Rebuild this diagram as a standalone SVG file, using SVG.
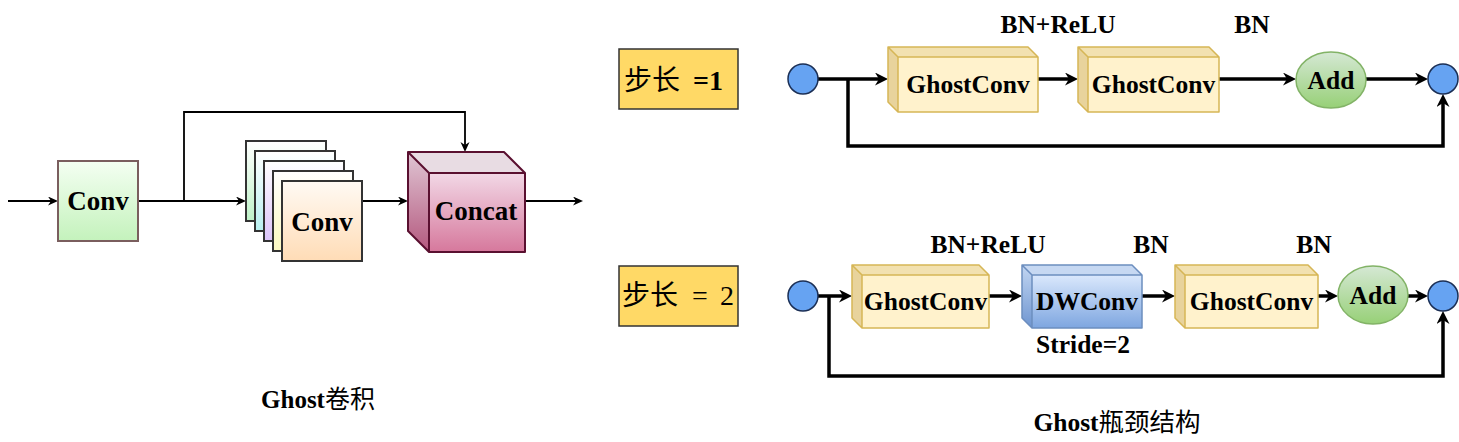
<svg xmlns="http://www.w3.org/2000/svg" width="1459" height="442" viewBox="0 0 1459 442">
<style>
.t{font-family:"Liberation Serif","Noto Sans CJK SC",serif;font-weight:bold;fill:#000;text-anchor:middle}
.s{font-family:"Liberation Serif","Noto Sans CJK SC",serif;font-weight:normal;fill:#000;text-anchor:start}
.cj{font-family:"Noto Sans CJK SC","Liberation Serif",serif;font-weight:normal}
.b{font-weight:bold}
.ln{fill:none;stroke:#000;stroke-width:1.8}
.lnr{fill:none;stroke:#000;stroke-width:3.5}
.gf{fill:#fff2cc}
.gt{fill:#f2e1b0}
.gl{fill:#e8d39c}
.go{fill:none;stroke:#d6b656;stroke-width:1.5;stroke-linejoin:round}
.dot{fill:#66a3f2;stroke:#1b2f55;stroke-width:1.5}
.step{fill:#ffd966;stroke:#333;stroke-width:1.5}
.card{stroke:#333;stroke-width:2}
</style>
<defs>
<marker id="aL" markerUnits="userSpaceOnUse" markerWidth="11" markerHeight="10" refX="3" refY="4.5" orient="auto"><path d="M0,0 L10,4.5 L0,9 L3,4.5 Z" fill="#000"/></marker>
<marker id="aR" markerUnits="userSpaceOnUse" markerWidth="14" markerHeight="14" refX="4" refY="6.5" orient="auto"><path d="M0,0 L13,6.5 L0,13 L4,6.5 Z" fill="#000"/></marker>
<linearGradient id="gGreen" x1="0" y1="0" x2="0" y2="1"><stop offset="0" stop-color="#f4fff2"/><stop offset="1" stop-color="#c4f2bc"/></linearGradient>
<linearGradient id="gC1" x1="0" y1="0" x2="0" y2="1"><stop offset="0" stop-color="#ffffff"/><stop offset="1" stop-color="#bff2c8"/></linearGradient>
<linearGradient id="gC2" x1="0" y1="0" x2="0" y2="1"><stop offset="0" stop-color="#ffffff"/><stop offset="1" stop-color="#b8f0f0"/></linearGradient>
<linearGradient id="gC3" x1="0" y1="0" x2="0" y2="1"><stop offset="0" stop-color="#ffffff"/><stop offset="1" stop-color="#dcc4fa"/></linearGradient>
<linearGradient id="gC4" x1="0" y1="0" x2="0" y2="1"><stop offset="0" stop-color="#ffffff"/><stop offset="1" stop-color="#fbf8c0"/></linearGradient>
<linearGradient id="gC5" x1="0" y1="0" x2="0" y2="1"><stop offset="0" stop-color="#fffaf4"/><stop offset="1" stop-color="#ffdcb6"/></linearGradient>
<linearGradient id="gPink" x1="0" y1="0" x2="0" y2="1"><stop offset="0" stop-color="#f2d8e6"/><stop offset="1" stop-color="#d6789c"/></linearGradient>
<linearGradient id="gPinkL" x1="0" y1="0" x2="0" y2="1"><stop offset="0" stop-color="#e0c6d4"/><stop offset="1" stop-color="#b4587e"/></linearGradient>
<linearGradient id="gBlue" x1="0" y1="0" x2="0" y2="1"><stop offset="0" stop-color="#dae8fc"/><stop offset="1" stop-color="#7ea6e0"/></linearGradient>
<linearGradient id="gBlueL" x1="0" y1="0" x2="0" y2="1"><stop offset="0" stop-color="#c2d6f2"/><stop offset="1" stop-color="#6e95d0"/></linearGradient>
<linearGradient id="gAdd" x1="0" y1="0" x2="0" y2="1"><stop offset="0" stop-color="#d5e8d4"/><stop offset="1" stop-color="#97d077"/></linearGradient>
</defs>

<g id="connectors">
<path class="ln" d="M8,201 H51" marker-end="url(#aL)"/>
<path class="ln" d="M138,201 H239" marker-end="url(#aL)"/>
<path class="ln" d="M184,201 V112 H465 V145" marker-end="url(#aL)"/>
<path class="ln" d="M362,201 H401" marker-end="url(#aL)"/>
<path class="ln" d="M525,201 H576" marker-end="url(#aL)"/>

<path class="lnr" d="M818,79 H879" marker-end="url(#aR)"/>
<path class="lnr" d="M848,79 V146 H1443 V103" marker-end="url(#aR)"/>
<path class="lnr" d="M1038,79 H1069" marker-end="url(#aR)"/>
<path class="lnr" d="M1219,79 H1287" marker-end="url(#aR)"/>
<path class="lnr" d="M1366,79 H1419" marker-end="url(#aR)"/>

<path class="lnr" d="M818,296 H843" marker-end="url(#aR)"/>
<path class="lnr" d="M829,296 V376 H1443 V320" marker-end="url(#aR)"/>
<path class="lnr" d="M989,296 H1013" marker-end="url(#aR)"/>
<path class="lnr" d="M1142,296 H1166" marker-end="url(#aR)"/>
<path class="lnr" d="M1318,296 H1329" marker-end="url(#aR)"/>
<path class="lnr" d="M1408,296 H1419" marker-end="url(#aR)"/>
</g>

<g id="conv1">
<rect x="58" y="161" width="80" height="80" fill="url(#gGreen)" stroke="#7a5e5e" stroke-width="2"/>
<text class="t" x="98" y="210" font-size="27">Conv</text>
</g>

<g id="conv-stack">
<rect class="card" x="246" y="141" width="80" height="80" fill="url(#gC1)"/>
<rect class="card" x="255" y="151" width="80" height="80" fill="url(#gC2)"/>
<rect class="card" x="264" y="161" width="80" height="80" fill="url(#gC3)"/>
<rect class="card" x="273" y="171" width="80" height="80" fill="url(#gC4)"/>
<rect class="card" x="282" y="181" width="80" height="80" fill="url(#gC5)"/>
<text class="t" x="322" y="231" font-size="27">Conv</text>
</g>

<g id="concat">
<rect x="429" y="173" width="96" height="79" fill="url(#gPink)"/>
<path d="M408,152 H504 L525,173 H429 Z" fill="#e8dce3"/>
<path d="M408,152 L429,173 V252 L408,231 Z" fill="url(#gPinkL)"/>
<path d="M408,152 H504 L525,173 V252 H429 L408,231 Z M408,152 L429,173 H525 M429,173 V252" fill="none" stroke="#5a1030" stroke-width="2" stroke-linejoin="round"/>
<text class="t" x="476" y="220" font-size="27">Concat</text>
</g>

<g id="title-left">
<text class="t" x="318" y="408" font-size="25"><tspan>Ghost</tspan><tspan class="cj">卷积</tspan></text>
</g>

<g id="step1">
<rect class="step" x="619" y="49" width="119" height="60"/>
<text class="s" y="90" font-size="28"><tspan class="cj" x="624">步长</tspan><tspan class="b" x="693">=1</tspan></text>
</g>
<g id="step2">
<rect class="step" x="619" y="266" width="119" height="60"/>
<text class="s" y="305" font-size="28"><tspan class="cj" x="622">步长</tspan><tspan x="692">=</tspan><tspan x="720">2</tspan></text>
</g>

<g id="in1"><circle class="dot" cx="803" cy="79" r="15"/></g>
<g id="ghost1a">
<rect class="gf" x="898" y="57" width="140" height="55"/>
<path class="gt" d="M888,47 H1028 L1038,57 H898 Z"/>
<path class="gl" d="M888,47 L898,57 V112 L888,102 Z"/>
<path class="go" d="M888,47 H1028 L1038,57 V112 H898 L888,102 Z M888,47 L898,57 H1038 M898,57 V112"/>
<text class="t" x="968" y="93" font-size="25.5">GhostConv</text>
</g>
<g id="ghost1b">
<rect class="gf" x="1088" y="57" width="131" height="55"/>
<path class="gt" d="M1078,47 H1209 L1219,57 H1088 Z"/>
<path class="gl" d="M1078,47 L1088,57 V112 L1078,102 Z"/>
<path class="go" d="M1078,47 H1209 L1219,57 V112 H1088 L1078,102 Z M1078,47 L1088,57 H1219 M1088,57 V112"/>
<text class="t" x="1153.5" y="93" font-size="25.5">GhostConv</text>
</g>
<g id="add1">
<ellipse cx="1331" cy="80" rx="35" ry="28" fill="url(#gAdd)" stroke="#82b366" stroke-width="1.5"/>
<text class="t" x="1331" y="89" font-size="25.5">Add</text>
</g>
<g id="out1"><circle class="dot" cx="1443" cy="79" r="15"/></g>
<g id="labels1">
<text class="t" x="1058" y="33" font-size="25.5">BN+ReLU</text>
<text class="t" x="1252" y="33" font-size="25.5">BN</text>
</g>

<g id="in2"><circle class="dot" cx="803" cy="296" r="15"/></g>
<g id="ghost2a">
<rect class="gf" x="862" y="275" width="127" height="53"/>
<path class="gt" d="M852,265 H979 L989,275 H862 Z"/>
<path class="gl" d="M852,265 L862,275 V328 L852,318 Z"/>
<path class="go" d="M852,265 H979 L989,275 V328 H862 L852,318 Z M852,265 L862,275 H989 M862,275 V328"/>
<text class="t" x="925.5" y="310" font-size="25.5">GhostConv</text>
</g>
<g id="dwconv">
<rect x="1032" y="275" width="110" height="53" fill="url(#gBlue)"/>
<path d="M1022,265 H1132 L1142,275 H1032 Z" fill="#c6d8f2"/>
<path d="M1022,265 L1032,275 V328 L1022,318 Z" fill="url(#gBlueL)"/>
<path d="M1022,265 H1132 L1142,275 V328 H1032 L1022,318 Z M1022,265 L1032,275 H1142 M1032,275 V328" fill="none" stroke="#6c8ebf" stroke-width="1.5" stroke-linejoin="round"/>
<text class="t" x="1087" y="310" font-size="25.5">DWConv</text>
</g>
<g id="ghost2b">
<rect class="gf" x="1185" y="275" width="133" height="53"/>
<path class="gt" d="M1175,265 H1308 L1318,275 H1185 Z"/>
<path class="gl" d="M1175,265 L1185,275 V328 L1175,318 Z"/>
<path class="go" d="M1175,265 H1308 L1318,275 V328 H1185 L1175,318 Z M1175,265 L1185,275 H1318 M1185,275 V328"/>
<text class="t" x="1251.5" y="310" font-size="25.5">GhostConv</text>
</g>
<g id="add2">
<ellipse cx="1373" cy="295" rx="35" ry="29" fill="url(#gAdd)" stroke="#82b366" stroke-width="1.5"/>
<text class="t" x="1373" y="304" font-size="25.5">Add</text>
</g>
<g id="out2"><circle class="dot" cx="1443" cy="296" r="15"/></g>
<g id="labels2">
<text class="t" x="988" y="253" font-size="25.5">BN+ReLU</text>
<text class="t" x="1151" y="253" font-size="25.5">BN</text>
<text class="t" x="1314" y="253" font-size="25.5">BN</text>
<text class="t" x="1083" y="353" font-size="25.5">Stride=2</text>
</g>

<g id="title-right">
<text class="t" x="1117" y="431" font-size="25.5"><tspan>Ghost</tspan><tspan class="cj">瓶颈结构</tspan></text>
</g>
</svg>
